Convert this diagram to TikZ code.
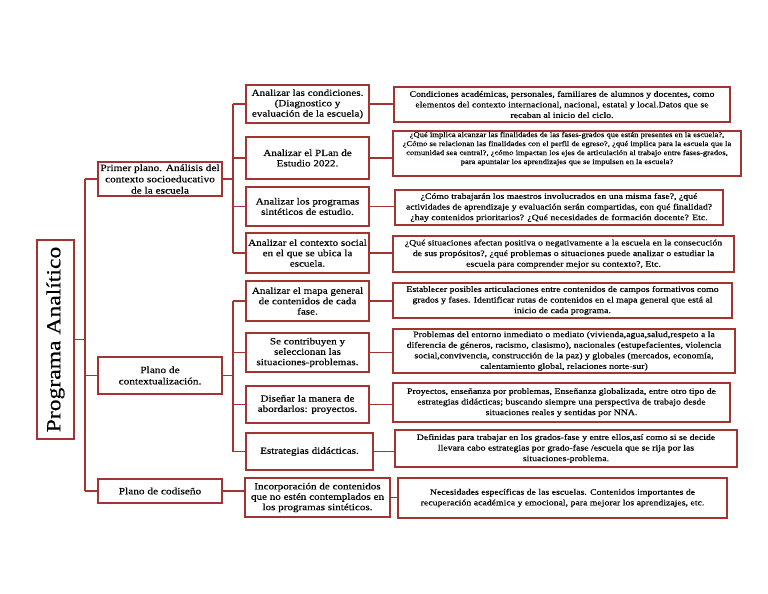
\documentclass[tikz,border=0pt]{standalone}
\usepackage{fontspec}
\setmainfont{Liberation Serif}[FakeStretch=1.18,FakeBold=0.35]
\definecolor{bord}{RGB}{163,52,50}
\begin{document}
\begin{tikzpicture}[x=1pt,y=-1pt,
  box/.style={draw=bord,line width=1.5pt,fill=white,inner sep=1pt,align=center,anchor=center},
  lone/.style={box,font=\fontsize{9.6}{11.3}\selectfont},
  ltwo/.style={box,font=\fontsize{9.4}{10.4}\selectfont},
  lthree/.style={box,font=\fontsize{8.3}{10.6}\selectfont},
  lsmall/.style={box,font=\fontsize{7.25}{9}\selectfont},
  conn/.style={draw=bord,line width=1.2pt}]
\useasboundingbox (0,0) rectangle (768,594);

% root
\node[box,rotate=90,minimum width=199pt,minimum height=37pt,font=\fontsize{20}{24}\selectfont] (root) at (55.5,339.5) {Programa Analítico};

% level 1
\node[lone,minimum width=124pt,minimum height=34pt] (P1) at (160,179) {Primer plano. Análisis del\\contexto socioeducativo\\de la escuela};
\node[lone,minimum width=124pt,minimum height=37pt] (P2) at (160,375.5) {Plano de\\contextualización.};
\node[lone,minimum width=124pt,minimum height=24pt] (P3) at (160,491) {Plano de codiseño};

% level 2
\node[ltwo,minimum width=123pt,minimum height=38pt] (B1) at (307.5,104) {Analizar las condiciones.\\(Diagnostico y\\evaluación de la escuela)};
\node[ltwo,minimum width=123pt,minimum height=42pt] (B2) at (307.5,158) {Analizar el PLan de\\Estudio 2022.};
\node[ltwo,minimum width=123pt,minimum height=39pt] (B3) at (307.5,206.5) {Analizar los programas\\sintéticos de estudio.};
\node[ltwo,minimum width=123pt,minimum height=40pt] (B4) at (307.5,253) {Analizar el contexto social\\en el que se ubica la\\escuela.};
\node[ltwo,minimum width=123pt,minimum height=40pt] (B5) at (307.5,301) {Analizar el mapa general\\de contenidos de cada\\fase.};
\node[ltwo,minimum width=123pt,minimum height=39pt] (B6) at (307.5,352.5) {Se contribuyen y\\seleccionan las\\situaciones-problemas.};
\node[ltwo,minimum width=123pt,minimum height=37pt] (B7) at (307.5,404.5) {Diseñar la manera de\\abordarlos: proyectos.};
\node[ltwo,minimum width=127pt,minimum height=37pt] (B8) at (309.5,451.5) {Estrategias didácticas.};
\node[ltwo,minimum width=145pt,minimum height=39pt] (B9) at (317.5,497.5) {Incorporación de contenidos\\que no estén contemplados en\\los programas sintéticos.};

% level 3
\node[lthree,minimum width=336pt,minimum height=35pt] (C1) at (562,104.5) {Condiciones académicas, personales, familiares de alumnos y docentes, como\\elementos del contexto internacional, nacional, estatal y local.Datos que se\\recaban al inicio del ciclo.};
\node[lsmall,minimum width=348pt,minimum height=43pt] (C2) at (567,153.5) {¿Qué implica alcanzar las finalidades de las fases-grados que están presentes en la escuela?,\\¿Cómo se relacionan las finalidades con el perfil de egreso?, ¿qué implica para la escuela que la\\comunidad sea central?, ¿cómo impactan los ejes de articulación al trabajo entre fases-grados,\\para apuntalar los aprendizajes que se impulsen en la escuela?\\[2pt]\mbox{}};
\node[lthree,minimum width=328pt,minimum height=35pt] (C3) at (559,207.5) {¿Cómo trabajarán los maestros involucrados en una misma fase?, ¿qué\\actividades de aprendizaje y evaluación serán compartidas, con qué finalidad?\\¿hay contenidos prioritarios? ¿Qué necesidades de formación docente? Etc.};
\node[lthree,minimum width=341pt,minimum height=36pt] (C4) at (563.5,254) {¿Qué situaciones afectan positiva o negativamente a la escuela en la consecución\\de sus propósitos?, ¿qué problemas o situaciones puede analizar o estudiar la\\escuela para comprender mejor su contexto?, Etc.};
\node[lthree,minimum width=339pt,minimum height=35pt] (C5) at (562.5,300.5) {Establecer posibles articulaciones entre contenidos de campos formativos como\\grados y fases. Identificar rutas de contenidos en el mapa general que está al\\inicio de cada programa.};
\node[lthree,minimum width=342pt,minimum height=44pt] (C6) at (564,351) {Problemas del entorno inmediato o mediato (vivienda,agua,salud,respeto a la\\diferencia de géneros, racismo, clasismo), nacionales (estupefacientes, violencia\\social,convivencia, construcción de la paz) y globales (mercados, economía,\\calentamiento global, relaciones norte-sur)};
\node[lthree,minimum width=337pt,minimum height=39pt] (C7) at (561.5,402.5) {Proyectos, enseñanza por problemas, Enseñanza globalizada, entre otro tipo de\\estrategias didácticas; buscando siempre una perspectiva de trabajo desde\\situaciones reales y sentidas por NNA.};
\node[lthree,minimum width=342pt,minimum height=37pt] (C8) at (566,448.5) {Definidas para trabajar en los grados-fase y entre ellos,así como si se decide\\llevara cabo estrategias por grado-fase /escuela que se rija por las\\situaciones-problema.};
\node[lthree,minimum width=329pt,minimum height=40pt] (C9) at (562.5,498) {Necesidades específicas de las escuelas. Contenidos importantes de\\recuperación académica y emocional, para mejorar los aprendizajes, etc.};

% trunk coordinates
\coordinate (t0) at (85,339.5);
\coordinate (t1) at (233,179);
\coordinate (t2) at (233,375.5);

% root -> level 1
\draw[conn] (root.south) -- (root.south -| t0);
\draw[conn] (t0 |- P1.west) -- (t0 |- P3.west);
\draw[conn] (t0 |- P1.west) -- (P1.west);
\draw[conn] (t0 |- P2.west) -- (P2.west);
\draw[conn] (t0 |- P3.west) -- (P3.west);

% P1 -> B1..B4
\draw[conn] (P1.east) -- (P1.east -| t1);
\draw[conn] (t1 |- B1.west) -- (t1 |- B4.west);
\foreach \b in {B1,B2,B3,B4} \draw[conn] (t1 |- \b.west) -- (\b.west);

% P2 -> B5..B8
\draw[conn] (P2.east) -- (P2.east -| t2);
\draw[conn] (t2 |- B5.west) -- (t2 |- B8.west);
\foreach \b in {B5,B6,B7,B8} \draw[conn] (t2 |- \b.west) -- (\b.west);

% P3 -> B9
\draw[conn] (P3.east) -- (P3.east -| B9.west);

% level 2 -> level 3
\draw[conn] (B1.east) -- (B1.east -| C1.west);
\draw[conn] (B2.east) -- (B2.east -| C2.west);
\draw[conn] (B3.east) -- (B3.east -| C3.west);
\draw[conn] (B4.east) -- (B4.east -| C4.west);
\draw[conn] (B5.east) -- (B5.east -| C5.west);
\draw[conn] (B6.east) -- (B6.east -| C6.west);
\draw[conn] (B7.east) -- (B7.east -| C7.west);
\draw[conn] (B8.east) -- (B8.east -| C8.west);
\draw[conn] (B9.east) -- (B9.east -| C9.west);
\end{tikzpicture}
\end{document}
